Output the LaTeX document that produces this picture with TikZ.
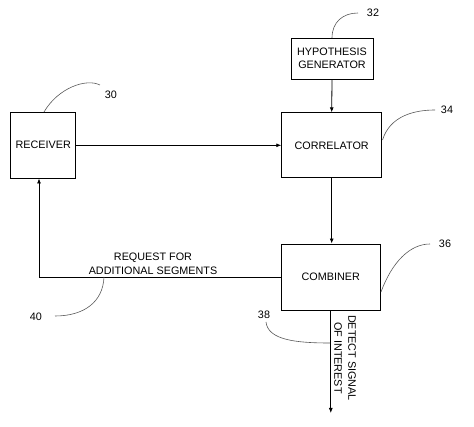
\documentclass[tikz,border=0pt]{standalone}
\usepackage{fontspec}
\setmainfont{Liberation Sans}
\usetikzlibrary{arrows.meta}
\begin{document}
\begin{tikzpicture}[x=1pt,y=-1pt,
 box/.style={draw, line width=0.9pt, inner sep=0pt, align=center, font=\fontsize{10.8}{13}\selectfont},
 conn/.style={line width=0.8pt, -{Latex[length=5pt,width=4pt]}},
 plain/.style={line width=0.8pt},
 lead/.style={draw=black!65, line width=0.6pt},
 num/.style={font=\fontsize{10.8}{13}\selectfont, inner sep=0pt},
 lbl/.style={font=\fontsize{10.8}{14}\selectfont, align=center, inner sep=0pt}]
\useasboundingbox (0,0) rectangle (474,427);
% boxes
\node[box, minimum width=82pt, minimum height=41pt] (hyp) at (332,58.5) {HYPOTHESIS\\GENERATOR};
\node[box, minimum width=65pt, minimum height=66pt] (rec) at (43.3,145) {RECEIVER};
\node[box, minimum width=100pt, minimum height=65pt] (cor) at (331.7,145.3) {CORRELATOR};
\node[box, minimum width=99pt, minimum height=66pt] (comb) at (330.8,277) {COMBINER};
% connectors
\draw[conn] (hyp.south) -- (cor.north);
\draw[conn] (rec.east |- cor.west) -- (cor.west);
\draw[conn] (cor.south) -- (cor.south |- comb.north);
\coordinate (corner) at (39,277);
\draw[conn] (comb.west) -- (corner) -- (corner |- rec.south);
\coordinate (out) at (330.8,413);
\draw[conn] (comb.south -| out) -- (out);
% labels
\node[lbl] (req) at (153,264) {REQUEST FOR\\ADDITIONAL SEGMENTS};
\node[lbl, rotate=-90] (det) at (345,358) {DETECT SIGNAL\\OF INTEREST};
% reference numerals
\node[num] (n32) at (373,13) {32};
\node[num] (n30) at (111,95) {30};
\node[num] (n34) at (447,110) {34};
\node[num] (n36) at (445,244) {36};
\node[num] (n40) at (36,317) {40};
\node[num] (n38) at (264,315) {38};
% leader lines
\coordinate (a32) at (332,38); \coordinate (b32) at (358,13);
\draw[lead] (a32) .. controls (332,22) and (343,13) .. (b32);
\coordinate (a30) at (44,112); \coordinate (b30) at (100,85);
\draw[lead] (a30) .. controls (58,88) and (86,78) .. (b30);
\coordinate (a34) at (382.5,140); \coordinate (b34) at (435,110);
\draw[lead] (a34) .. controls (390,116) and (414,110) .. (b34);
\coordinate (a36) at (381,292); \coordinate (b36) at (430,244);
\draw[lead] (a36) .. controls (392,262) and (410,244) .. (b36);
\coordinate (a40) at (104,277); \coordinate (b40) at (55,316);
\draw[lead] (a40) .. controls (103,302) and (84,316) .. (b40);
\coordinate (a38) at (266,322); \coordinate (b38) at (330,343);
\draw[lead] (a38) .. controls (268,340) and (296,343) .. (b38);
\end{tikzpicture}
\end{document}
